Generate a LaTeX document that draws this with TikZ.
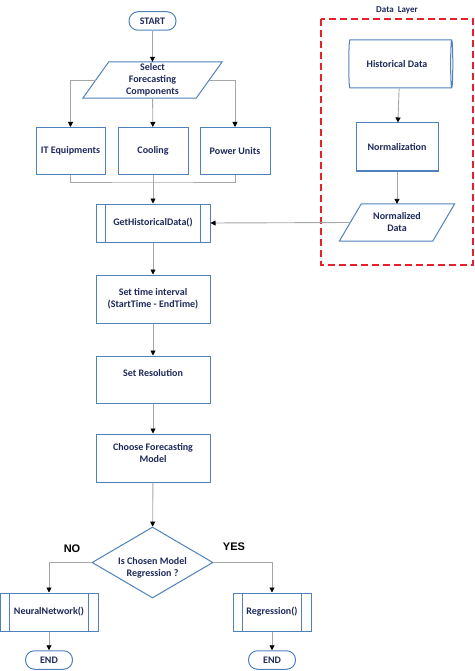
\documentclass[tikz,border=0pt]{standalone}
\usepackage{fontspec}
\setmainfont{Carlito}
\newfontfamily\labelfont{Liberation Sans}
\usetikzlibrary{arrows.meta,shapes.geometric}
\definecolor{boxblue}{RGB}{79,129,189}
\definecolor{txtnavy}{RGB}{31,42,92}
\definecolor{linegray}{RGB}{166,166,166}
\definecolor{layerred}{RGB}{232,32,42}
\begin{document}
\begin{tikzpicture}[x=1pt,y=1pt,
    every node/.style={font=\bfseries\fontsize{10}{12}\selectfont, text=txtnavy, align=center},
    blueline/.style={draw, color=boxblue, text=txtnavy, line width=1pt},
    procbox/.style={blueline, fill=white, minimum width=#1, minimum height=47, inner sep=2pt},
    procbox/.default=69,
    subbox/.style={blueline, fill=white, minimum width=#1, minimum height=38, inner sep=2pt},
    termbox/.style={blueline, rounded corners=9pt, minimum width=47, minimum height=18.5, inner sep=1pt},
    flow/.style={color=linegray, line width=0.9pt, -{Triangle[length=5pt,width=5pt,fill=black,color=black]}},
    plain/.style={color=linegray, line width=0.9pt}]
    \useasboundingbox (0,0) rectangle (474,-671);

    % data layer frame
    \draw[color=layerred, line width=1.4pt, dash pattern=on 7pt off 4pt] (321,-19) rectangle (473,-265);

    % main column
    \node[termbox] (start) at (152.5,-21) {START};
    \node[minimum width=113, minimum height=36, inner sep=0] (select) at (152.5,-80) {Select\\Forecasting\\Components};
    \draw[blueline] ([xshift=13]select.north west) -- ([xshift=13]select.north east)
        -- ([xshift=-13]select.south east) -- ([xshift=-13]select.south west) -- cycle;

    \node[procbox] (itequip) at (70.5,-151) {IT Equipments};
    \node[procbox=70] (cooling) at (153,-151) {Cooling};
    \node[procbox=70] (power) at (235,-151) {Power Units};
    \coordinate (joinbox) at (153,-182);

    \node[subbox=114] (gethist) at (153,-223) {GetHistoricalData()};
    \draw[blueline] ([xshift=10]gethist.north west) -- ([xshift=10]gethist.south west)
        ([xshift=-10]gethist.north east) -- ([xshift=-10]gethist.south east);

    \node[procbox=114, minimum height=48] (interval) at (153,-299) {Set time interval\\(StartTime - EndTime)};
    \node[procbox=114, minimum height=47, text depth=14pt] (resol) at (153,-379.5) {Set Resolution};
    \node[procbox=114, minimum height=48, text depth=10pt] (choose) at (153,-458) {Choose Forecasting\\Model};

    \node[blueline, diamond, aspect=1.7, minimum width=121, minimum height=71, inner sep=0] (isreg) at (152.5,-562.5)
        {\raisebox{-8pt}[0pt][0pt]{\begin{tabular}{@{}c@{}}Is Chosen Model\\Regression ?\end{tabular}}};

    \node[subbox=98] (neural) at (49,-612) {NeuralNetwork()};
    \draw[blueline] ([xshift=10]neural.north west) -- ([xshift=10]neural.south west)
        ([xshift=-10]neural.north east) -- ([xshift=-10]neural.south east);
    \node[subbox=78] (regr) at (272,-612) {Regression()};
    \draw[blueline] ([xshift=10]regr.north west) -- ([xshift=10]regr.south west)
        ([xshift=-10]regr.north east) -- ([xshift=-10]regr.south east);

    \node[termbox] (endnn) at (49,-660) {END};
    \node[termbox] (endreg) at (272,-660) {END};

    \node[font=\labelfont\bfseries\fontsize{11}{13}\selectfont, text=black] (nolbl) at (72,-549) {NO};
    \node[font=\labelfont\bfseries\fontsize{11}{13}\selectfont, text=black] (yeslbl) at (234,-547) {YES};

    % data layer
    \node[font=\bfseries\fontsize{9}{11}\selectfont] (layerlbl) at (397,-10) {Data\ \ Layer};
    \node[blueline, cylinder, aspect=0.3, minimum width=48, minimum height=104, inner sep=0] (histdata) at (400,-64) {\hspace*{-6pt}Historical Data};
    \node[procbox=82, minimum height=48] (normal) at (397,-147) {Normalization};
    \node[minimum width=93, minimum height=37, inner sep=0] (normdata) at (397,-222.5) {Normalized\\Data};
    \draw[blueline] ([xshift=11]normdata.north west) -- ([xshift=11]normdata.north east)
        -- ([xshift=-11]normdata.south east) -- ([xshift=-11]normdata.south west) -- cycle;

    % connectors
    \draw[flow] (start) -- (select);
    \draw[flow] (select.west) -| (itequip.north);
    \draw[flow] (select) -- (cooling);
    \draw[flow] (select.east) -| (power.north);
    \draw[plain] (itequip.south) |- (joinbox) -| (power.south);
    \draw[plain] (cooling.south) -- (joinbox);
    \draw[flow] (joinbox) -- (gethist);
    \draw[flow] (normdata.west) -- (gethist.east);
    \draw[flow] (gethist) -- (interval);
    \draw[flow] (interval) -- (resol);
    \draw[flow] (resol) -- (choose);
    \draw[flow] (choose) -- (isreg);
    \draw[flow] (isreg.west) -| (neural.north);
    \draw[flow] (isreg.east) -| (regr.north);
    \draw[flow] (neural) -- (endnn);
    \draw[flow] (regr) -- (endreg);
    \draw[flow] (histdata) -- (normal);
    \draw[flow] (normal) -- (normdata);
\end{tikzpicture}
\end{document}
